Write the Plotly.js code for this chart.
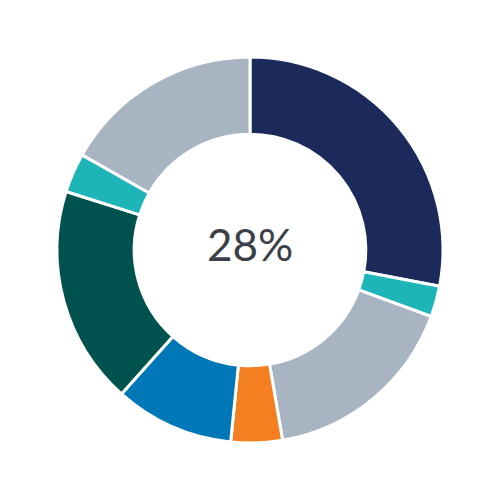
<!DOCTYPE html>
<html>
<head>
<meta charset="utf-8">
<script src="https://cdn.plot.ly/plotly-3.0.1.min.js"></script>
<style>
  html, body { margin: 0; padding: 0; background: #fff; }
  #chart { width: 500px; height: 500px; }
</style>
</head>
<body>
<div id="chart"></div>
<script>
// slices clockwise from 12 o'clock
var labels = ['A', 'B', 'C', 'D', 'E', 'F', 'G', 'H'];
var values = [28, 2.6, 16.7, 4.3, 10, 18.3, 3.3, 16.8];
var colors = ['#1b2a5b', '#1db5b8', '#a9b4c2', '#f47f20', '#0078b8', '#00524f', '#1db5b8', '#a9b4c2'];
var centerText = '28%';

var data = [{
  type: 'pie',
  labels: labels,
  values: values,
  hole: 0.6,
  sort: false,
  direction: 'clockwise',
  rotation: 0,
  textinfo: 'none',
  hoverinfo: 'none',
  marker: { colors: colors, line: { color: '#ffffff', width: 3 } }
}];

var layout = {
  width: 500, height: 500,
  showlegend: false,
  margin: { l: 57, r: 57, t: 57, b: 57 },
  paper_bgcolor: '#ffffff',
  annotations: [{
    text: centerText, showarrow: false,
    x: 0.5, y: 0.5, xref: 'paper', yref: 'paper', yshift: 6,
    font: { family: 'Lato', size: 44, color: '#3b3f47' }
  }]
};

Plotly.newPlot('chart', data, layout, { displayModeBar: false, staticPlot: true });
</script>
</body>
</html>
